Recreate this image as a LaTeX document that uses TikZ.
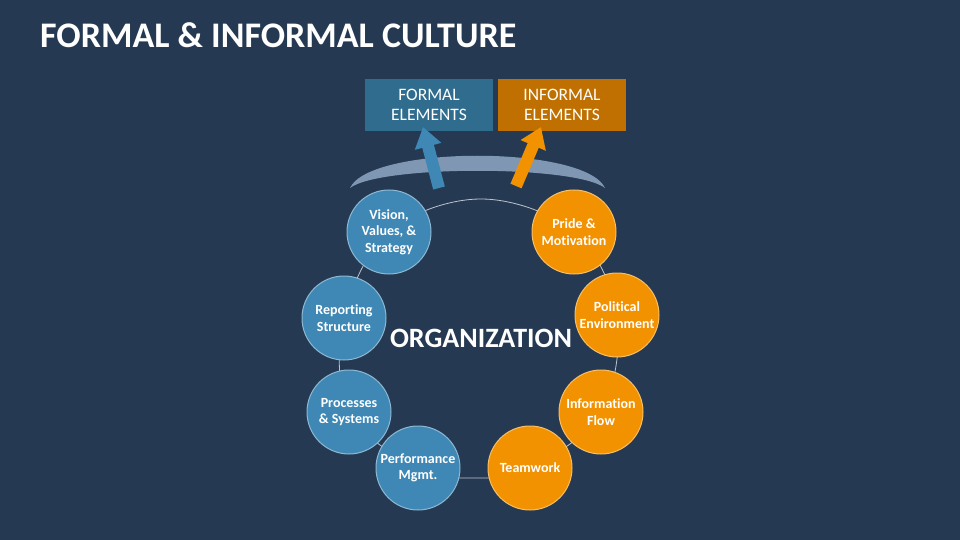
\documentclass[tikz,border=0pt]{standalone}
\usepackage{fontspec}
\setmainfont[Ligatures={NoCommon,NoRare}]{Carlito}
\usetikzlibrary{arrows.meta}
\definecolor{bg}{HTML}{253A52}
\definecolor{fblue}{HTML}{3F88B5}
\definecolor{bblue}{HTML}{2F6C8E}
\definecolor{forange}{HTML}{F39200}
\definecolor{borange}{HTML}{BF7000}
\definecolor{arcc}{HTML}{7F97B2}
\tikzset{
 bnode/.style={circle,minimum size=84pt,inner sep=0pt,fill=fblue,draw=fblue!60!white,line width=1pt,text=white,font=\bfseries\fontsize{14}{16.5}\selectfont,align=center},
 onode/.style={bnode,fill=forange,draw=forange!60!white},
 ebox/.style={minimum width=128pt,minimum height=52pt,text=white,font=\fontsize{17.5}{20.5}\selectfont,align=center,inner sep=0pt},
 bigarrow/.style={line width=12pt,-{Triangle[width=26pt,length=20pt]}},
}
\begin{document}
\begin{tikzpicture}[x=1pt,y=-1pt]
\fill[bg] (0,0) rectangle (960,540);
\node[anchor=west,text=white,font=\bfseries\fontsize{36}{40}\selectfont,inner sep=0pt] (title) at (40,35) {FORMAL \& INFORMAL CULTURE};
\node[ebox,fill=bblue] (formal) at (429,105) {FORMAL\\ELEMENTS};
\node[ebox,fill=borange] (informal) at (562,105) {INFORMAL\\ELEMENTS};
\fill[arcc] (350,188) .. controls (370,145) and (585,145) .. (605,188) .. controls (575,165) and (380,165) .. (350,188) -- cycle;
\coordinate (bt) at (439,188);
\coordinate (ot) at (516,186);
\draw[bigarrow,fblue] (bt) -- (423,127);
\draw[bigarrow,forange] (ot) -- (541,127);
\coordinate (c1) at (389,232);\coordinate (c2) at (344,318);\coordinate (c3) at (349,412);\coordinate (c4) at (418,468);
\coordinate (c5) at (530,468);\coordinate (c6) at (601,412);\coordinate (c7) at (617,315);\coordinate (c8) at (574,232);
\draw[white!70!bg,line width=0.8pt] plot[smooth cycle,tension=0.6] coordinates {(c1) (481,199) (c8) (c7) (c6) (c5) (474,478) (c4) (c3) (c2)};
\node[bnode] (n1) at (c1) {Vision,\\Values, \&\\Strategy};
\node[bnode] (n2) at (c2) {Reporting\\Structure};
\node[bnode] (n3) at (c3) {Processes\\\& Systems};
\node[bnode] (n4) at (c4) {Performance\\Mgmt.};
\node[onode] (n5) at (c5) {Teamwork};
\node[onode] (n6) at (c6) {Information\\Flow};
\node[onode] (n7) at (c7) {Political\\Environment};
\node[onode] (n8) at (c8) {Pride \&\\Motivation};
\node[text=white,font=\bfseries\fontsize{28}{31}\selectfont] (org) at (481,338) {ORGANIZATION};
\end{tikzpicture}
\end{document}
